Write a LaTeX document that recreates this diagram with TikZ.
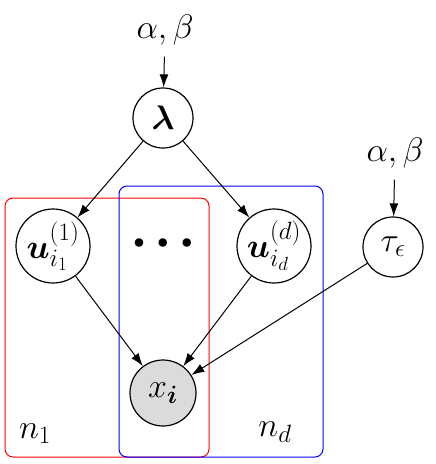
\documentclass[tikz,border=0pt]{standalone}
\usepackage{fix-cm}
\usepackage{amsmath,bm}
\DeclareMathSizes{34}{34}{25}{19}
\usetikzlibrary{arrows.meta}
\begin{document}
\fontsize{34}{40}\selectfont
\begin{tikzpicture}[x=1pt,y=-1pt,
  every node/.style={font=\fontsize{34}{40}\selectfont},
  var/.style={circle,draw,line width=1.2pt,inner sep=0pt},
  edge/.style={line width=1pt,-{Latex[length=13pt,width=9pt]}},
  plate/.style={line width=1pt,rounded corners=8pt}]
\useasboundingbox (0,0) rectangle (436,464);
\draw[plate,red] (5,198) rectangle (209,457);
\draw[plate,blue] (119,186) rectangle (323,457);
\node (ab1) at (165,30) {$\alpha,\beta$};
\node (ab2) at (395,153) {$\alpha,\beta$};
\node[var,minimum size=60pt] (lam) at (163,118) {$\bm{\lambda}$};
\node[var,minimum size=74pt] (u1) at (53,246) {$\bm{u}_{i_1}^{(1)}$};
\node[var,minimum size=74pt] (ud) at (274,246) {$\bm{u}_{i_d}^{(d)}$};
\node[var,minimum size=60pt] (tau) at (393,247) {$\tau_\epsilon$};
\node[font=\fontsize{22}{26}\selectfont] (dots) at (163,244) {$\bullet\mkern6.5mu\bullet\mkern6.5mu\bullet$};
\node[var,minimum size=66pt,fill=black!14] (xi) at (163,393) {$x_{\bm{i}}$};
\node (n1) at (35,434) {$n_1$};
\node (nd) at (275,432) {$n_d$};
\draw[edge] (ab1) -- (lam);
\draw[edge] (ab2) -- (tau);
\draw[edge] (lam) -- (u1);
\draw[edge] (lam) -- (ud);
\draw[edge] (u1) -- (xi);
\draw[edge] (ud) -- (xi);
\draw[edge] (tau) -- (xi);
\end{tikzpicture}
\end{document}
